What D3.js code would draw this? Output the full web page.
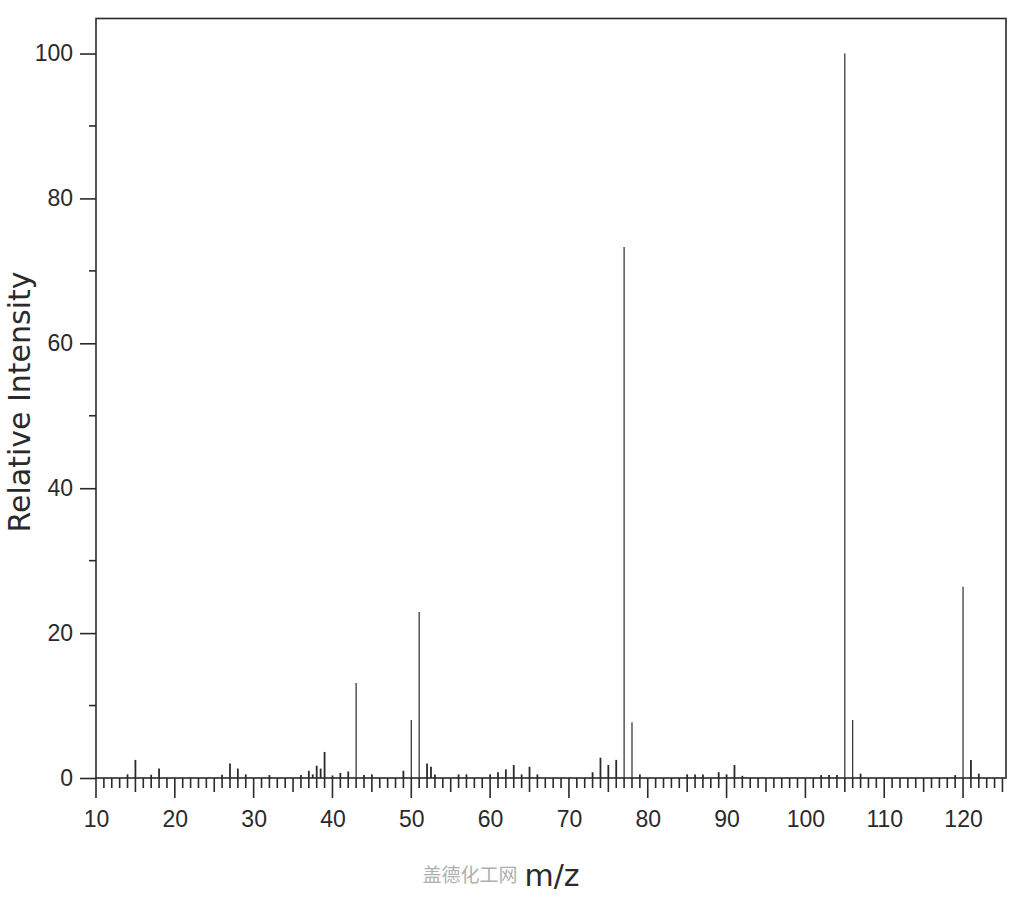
<!DOCTYPE html>
<html><head><meta charset="utf-8">
<script src="https://cdn.jsdelivr.net/npm/d3@7"></script>
<style>body{margin:0;background:#fff}svg{display:block}</style>
</head><body>
<svg id="c" width="1024" height="900"></svg>
<script>
const mz = [14,15,17,18,26,27,28,29,32,36,37,37.5,38,38.5,39,40,41,42,43,44,45,49,50,51,52,52.5,53,56,57,60,61,62,63,64,65,66,73,74,75,76,77,78,79,85,86,87,89,90,91,92,102,103,104,105,106,107,119,120,121,122];
const intensity = [0.5,2.5,0.45,1.3,0.45,2.0,1.3,0.5,0.4,0.4,1.0,0.5,1.7,1.3,3.6,0.35,0.7,0.9,13.1,0.4,0.5,1.0,8.0,22.9,2.0,1.55,0.5,0.5,0.5,0.5,0.8,1.2,1.8,0.5,1.55,0.5,0.8,2.8,1.8,2.5,73.3,7.7,0.5,0.5,0.5,0.5,0.8,0.5,1.8,0.3,0.4,0.4,0.4,100,8.0,0.6,0.4,26.4,2.5,0.6];
const xTicks = [10,20,30,40,50,60,70,80,90,100,110,120];
const yTicks = [0,20,40,60,80,100];
const xTitle = "m/z";
const yTitle = "Relative Intensity";
const watermark = "盖德化工网";

const svg = d3.select("#c");
const x = d3.scaleLinear().domain([10,125.45]).range([96,1006]);
const y = d3.scaleLinear().domain([0,105]).range([778,17.3]);
const ink = "#2a2a2a";

// frame
svg.append("rect").attr("x",96).attr("y",18.5).attr("width",910).attr("height",759.5)
  .attr("fill","none").attr("stroke",ink).attr("stroke-width",1.6);

// x minor/medium ticks
const allX = d3.range(10,126,1);
svg.append("g").selectAll("line").data(allX).join("line")
  .attr("x1",d=>x(d)).attr("x2",d=>x(d))
  .attr("y1",778).attr("y2",d=> d%10===0?798:(d%5===0?792:788))
  .attr("stroke",ink).attr("stroke-width",1.6);

// x axis labels via d3 axis
const xAxis = d3.axisBottom(x).tickValues(xTicks).tickSize(0).tickPadding(0).tickFormat(d3.format("d"));
const gx = svg.append("g").attr("transform","translate(0,778)").call(xAxis);
gx.select(".domain").remove();
gx.selectAll("text").attr("y",49).attr("dy",0).attr("font-family","Liberation Sans, Arial, sans-serif").attr("font-size",23).attr("fill",ink);

// y axis
const yAxis = d3.axisLeft(y).tickValues(yTicks).tickSize(16).tickPadding(7).tickFormat(d3.format("d"));
const gy = svg.append("g").attr("transform","translate(96,0)").call(yAxis);
gy.select(".domain").remove();
gy.selectAll("line").attr("stroke",ink).attr("stroke-width",1.6);
gy.selectAll("text").attr("font-family","Liberation Sans, Arial, sans-serif").attr("font-size",23).attr("fill",ink);
svg.append("g").selectAll("line").data([10,30,50,70,90]).join("line")
  .attr("x1",89).attr("x2",96).attr("y1",d=>y(d)).attr("y2",d=>y(d))
  .attr("stroke",ink).attr("stroke-width",1.6);

// peaks
svg.append("g").selectAll("line").data(mz).join("line")
  .attr("x1",d=>x(d)).attr("x2",d=>x(d))
  .attr("y1",y(0)).attr("y2",(d,i)=>y(intensity[i]))
  .attr("stroke",ink).attr("stroke-width",(d,i)=>intensity[i]>5?1.2:1.8);

// titles
svg.append("text").attr("transform","translate(30,402) rotate(-90)")
  .attr("text-anchor","middle").attr("font-family","DejaVu Sans, sans-serif")
  .attr("font-size",30).attr("fill",ink).text(yTitle);
svg.append("text").attr("x",470).attr("y",882).attr("font-family","Noto Sans CJK SC, sans-serif")
  .attr("font-size",19).attr("fill","#b0b0b0").attr("text-anchor","middle").text(watermark);
svg.append("text").attr("x",552).attr("y",886).attr("font-family","DejaVu Sans, sans-serif")
  .attr("font-size",30).attr("fill",ink).attr("text-anchor","middle").text(xTitle);
</script>
</body></html>
